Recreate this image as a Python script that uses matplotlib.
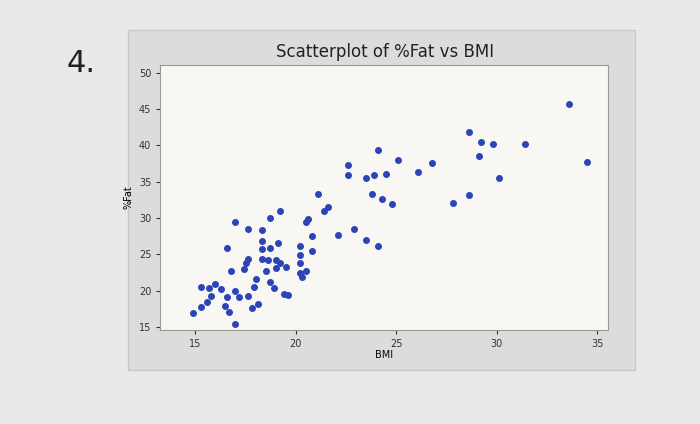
import matplotlib
matplotlib.use("Agg")
import matplotlib.pyplot as plt
from matplotlib.patches import Rectangle

bmi = [33.6,28.6,29.2,29.8,31.4,29.1,34.5,30.1,24.1,25.1,22.6,22.6,23.5,23.9,24.5,26.1,26.8,
       23.8,24.3,24.8,28.6,27.8,21.6,21.4,22.1,22.9,23.5,24.1,21.1,19.2,18.7,17.0,20.6,20.5,
       17.6,18.3,20.8,18.3,19.1,20.2,20.8,16.6,18.3,18.7,20.2,17.6,18.3,18.6,19.0,17.5,19.2,
       20.2,17.4,19.0,19.5,16.8,18.5,20.5,20.2,20.3,18.0,17.9,18.7,18.9,16.0,15.3,15.7,16.3,
       17.0,15.8,16.6,17.2,17.6,19.4,19.6,15.6,15.3,16.5,18.1,17.8,14.9,16.7,17.0]
fat = [45.7,41.9,40.5,40.2,40.2,38.6,37.7,35.5,39.4,38.0,37.3,36.0,35.5,36.0,36.1,36.4,37.6,
       33.3,32.6,32.0,33.2,32.1,31.5,31.0,27.7,28.5,27.0,26.2,33.3,31.0,30.0,29.5,29.9,29.5,
       28.5,28.4,27.5,26.9,26.6,26.2,25.5,25.9,25.8,25.9,24.9,24.4,24.4,24.2,24.2,23.8,23.8,
       23.8,23.0,23.1,23.3,22.7,22.7,22.7,22.5,21.9,21.6,20.5,21.2,20.4,20.9,20.5,20.4,20.2,
       20.0,19.3,19.1,19.1,19.3,19.6,19.4,18.5,17.8,17.9,18.2,17.6,16.9,17.1,15.4]
xticks = [15, 20, 25, 30, 35]
yticks = [15, 20, 25, 30, 35, 40, 45, 50]

fig = plt.figure(figsize=(7, 4.24), dpi=100, facecolor="#e9e9e7")
fig.add_artist(Rectangle((128/700, 1-370/424), 507/700, 340/424, transform=fig.transFigure,
                         facecolor="#dcdcda", edgecolor="#c8c8c6", lw=1, zorder=-5))
ax = fig.add_axes([0.229, 0.222, 0.64, 0.625])
ax.set_zorder(2)
ax.set_facecolor("#f8f7f4")
ax.scatter(bmi, fat, s=16, color="#2b45b8", zorder=3)
ax.set_xlim(13.26, 35.55)
ax.set_ylim(14.6, 51.1)
ax.set_xticks(xticks)
ax.set_yticks(yticks)
ax.tick_params(labelsize=7, colors="#333333", length=3)
ax.set_xlabel("BMI", fontsize=7, labelpad=1)
ax.set_ylabel("%Fat", fontsize=7, labelpad=4)
for s in ax.spines.values():
    s.set_color("#999999")
fig.text(0.55, 0.865, "Scatterplot of %Fat vs BMI", ha="center", fontsize=12, color="#222222", zorder=3)
fig.text(0.095, 0.83, "4.", fontsize=22, color="#222222", zorder=3)
fig.savefig("out.png", facecolor=fig.get_facecolor())
